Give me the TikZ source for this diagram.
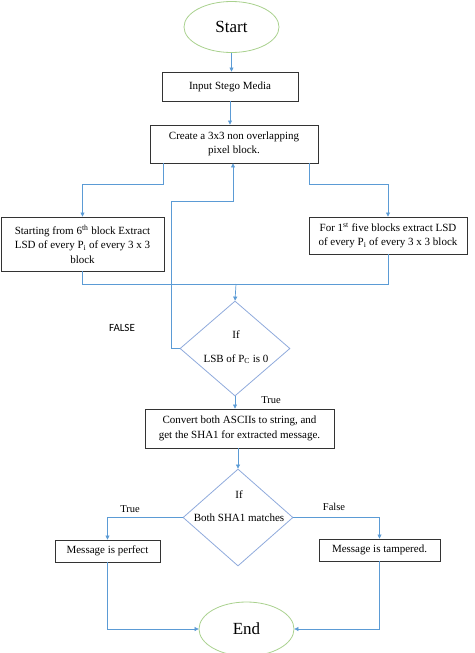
\documentclass[tikz,border=0pt]{standalone}
\usepackage{fontspec}
\setmainfont{Liberation Serif}
\newfontfamily\labelfont{Carlito}
\usetikzlibrary{arrows.meta, positioning, shapes.geometric, calc}

\definecolor{flowblue}{HTML}{5B9BD5}
\definecolor{termgreen}{HTML}{A9D18E}
\definecolor{diagblue}{HTML}{8FAADC}

\begin{document}
\begin{tikzpicture}[x=1pt, y=-1pt,
    box/.style={draw=black!80, line width=0.9pt, align=center, inner sep=2pt,
      font=\fontsize{11}{14.5}\selectfont},
    term/.style={draw=termgreen, ellipse, line width=0.8pt, minimum width=95pt,
      font=\fontsize{17}{20}\selectfont},
    decision/.style={draw=diagblue, diamond, line width=0.8pt, inner sep=0pt},
    line/.style={draw=flowblue, line width=0.7pt},
    arrow/.style={line, -{Triangle[width=4pt,length=4pt]}},
    lbl/.style={font=\fontsize{10.5}{12}\selectfont}]
    \useasboundingbox (0,0) rectangle (474,653);

    \node[term, minimum height=51pt] (start) at (231.5,27) {Start};
    \node[box, minimum width=136pt, minimum height=29pt] (input) at (230,86.5) {Input Stego Media};
    \node[box, minimum width=168pt, minimum height=38pt] (create) at (234,144)
      {Create a 3x3 non overlapping\\pixel block.};
    \node[box, minimum width=163pt, minimum height=54pt] (left) at (82.5,244)
      {Starting from 6\textsuperscript{th} block Extract\\LSD of every P\textsubscript{i} of every 3 x 3\\block};
    \node[box, minimum width=158pt, minimum height=37pt] (right) at (388,235.5)
      {For 1\textsuperscript{st} five blocks extract LSD\\of every P\textsubscript{i} of every 3 x 3 block};
    \node[decision, minimum width=110pt, minimum height=95pt] (check) at (235,348.5) {};
    \node[box, minimum width=189pt, minimum height=39pt] (convert) at (239.5,428.5)
      {Convert both ASCIIs to string, and\\get the SHA1 for extracted message.};
    \node[decision, minimum width=110pt, minimum height=97pt] (match) at (238,517.5) {};
    \node[box, minimum width=105pt, minimum height=22pt] (perfect) at (107.5,551) {Message is perfect};
    \node[box, minimum width=121pt, minimum height=22pt] (tampered) at (379.5,550) {Message is tampered.};
    \node[term, minimum height=54pt] (stop) at (246.5,629) {End};

    % text in the decisions
    \node[box, draw=none] (checkif) at (236,335) {If};
    \node[box, draw=none] (checktxt) at (236,359) {LSB of P\textsubscript{C} is 0};
    \node[box, draw=none] (matchif) at (239,495) {If};
    \node[box, draw=none] (matchtxt) at (239,517.5) {Both SHA1 matches};

    % branch labels
    \node[lbl, font=\labelfont\fontsize{11}{13}\selectfont] (falsea) at (122,328) {FALSE};
    \node[lbl] (truea) at (271,400) {True};
    \node[lbl] (trueb) at (130,509) {True};
    \node[lbl] (falseb) at (334,507) {False};

    \coordinate (merge) at (236,284);
    \coordinate (back) at (233,201);

    \draw[arrow] (start.south) -- (start.south |- input.north);
    \draw[arrow] (input.south) -- (input.south |- create.north);
    \draw[arrow] ($(create.south west)+(14,0)$) -- ++(0,21) -| (left.north);
    \draw[arrow] ($(create.south east)+(-9,0)$) -- ++(0,21) -| (right.north);
    \draw[line] (left.south) |- (merge);
    \draw[line] (right.south) |- (merge);
    \draw[arrow] (merge) -- (check.north);
    \draw[arrow] (check.west) -- ++(-8,0) |- (back) -- (back |- create.south);
    \draw[arrow] (check.south) -- (check.south |- convert.north);
    \draw[arrow] (convert.south -| match.north) -- (match.north);
    \draw[arrow] (match.west) -| (perfect.north);
    \draw[arrow] (match.east) -| (tampered.north);
    \draw[arrow] (perfect.south) |- (stop.west);
    \draw[arrow] (tampered.south) |- (stop.east);
  \end{tikzpicture}
\end{document}
